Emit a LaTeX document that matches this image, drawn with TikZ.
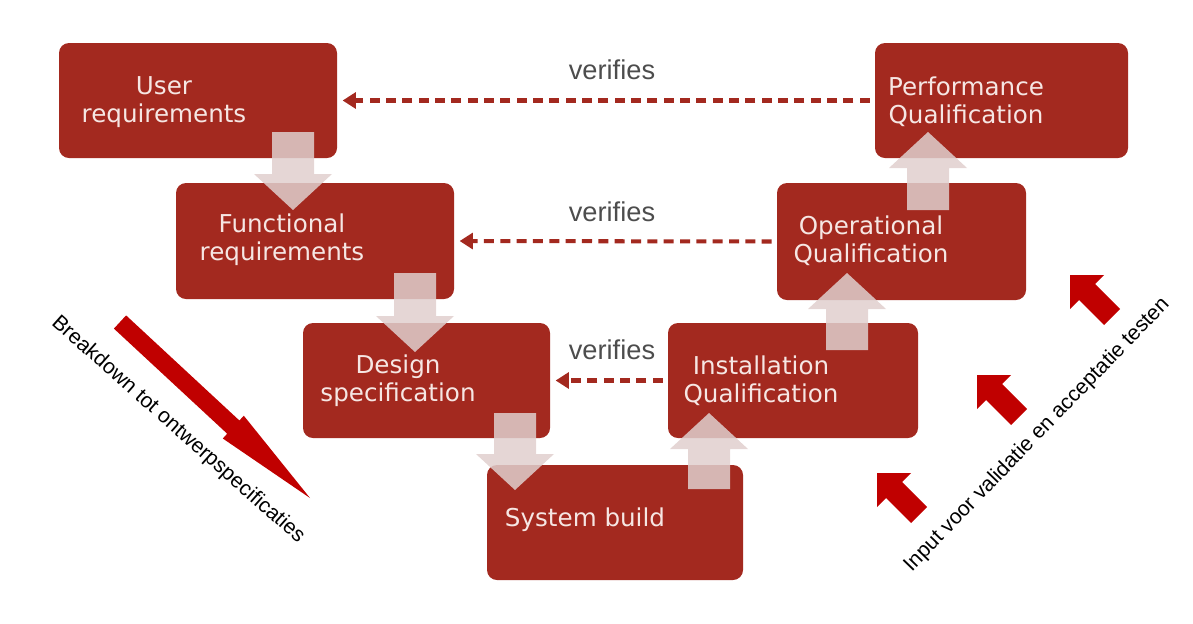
\documentclass[tikz,border=0pt]{standalone}
\usepackage{fontspec}
\setmainfont{Liberation Sans}
\newfontfamily\boxfont{DejaVu Sans}
\usetikzlibrary{arrows.meta,fit}
\definecolor{boxred}{HTML}{A3291F}
\definecolor{boxtext}{HTML}{F6E6E3}
\definecolor{liftpink}{HTML}{E0CFCE}
\definecolor{hintred}{HTML}{C00000}
\definecolor{verifygray}{HTML}{4D4D4D}

\begin{document}
\begin{tikzpicture}[x=0.02cm, y=-0.02cm,
  stage/.style={fill=boxred, rounded corners=0.2cm, inner sep=0pt},
  stagetext/.style={text=boxtext, align=center, font=\boxfont\fontsize{14}{16}\selectfont},
  verify/.style={draw=boxred, line width=2.3pt, dash pattern=on 5.7pt off 3.6pt,
    -{Triangle[length=7.5pt,width=9pt]}, shorten <=2.8pt, shorten >=3pt},
  verifytext/.style={text=verifygray, font=\fontsize{15.5}{18}\selectfont},
  lift/.style={fill=liftpink, fill opacity=0.85},
  hint/.style={fill=hintred},
  hinttext/.style={font=\fontsize{12}{14}\selectfont}]
  \useasboundingbox (0,0) rectangle (1193,623);

  \node[stage, fit={(59,43) (337,158)}] (ur) {};
  \node[stage, fit={(176,183) (454,299)}] (fr) {};
  \node[stage, fit={(303,323) (550,438)}] (ds) {};
  \node[stage, fit={(487,465) (743,580)}] (sb) {};
  \node[stage, fit={(668,323) (918,438)}] (iq) {};
  \node[stage, fit={(777,183) (1026,300)}] (oq) {};
  \node[stage, fit={(875,43) (1128,158)}] (pq) {};

  \draw[verify] (pq.west) -- (ur.east);
  \draw[verify] (oq.west) -- (fr.east);
  \draw[verify] (iq.west) -- (ds.east);
  \node[verifytext] (v1) at (612,70) {verifies};
  \node[verifytext] (v2) at (612,212) {verifies};
  \node[verifytext] (v3) at (612,350) {verifies};

  \foreach \x/\a/\b in {293/132/210, 415/273/352, 515/413/490, 709/489/413, 847/350/273, 928/210/132} {
    \pgfmathsetmacro\h{\b-36*sign(\b-\a)}
    \fill[lift] (\x-21,\a) -- (\x+21,\a) -- (\x+21,\h) -- (\x+39,\h) -- (\x,\b)
      -- (\x-39,\h) -- (\x-21,\h) -- cycle;
  }

  \node[stagetext] (ur-t) at (164,102) {User\\requirements};
  \node[stagetext] (fr-t) at (282,240) {Functional\\requirements};
  \node[stagetext] (ds-t) at (398,381) {Design\\specification};
  \node[stagetext] (sb-t) at (585,520) {System build};
  \node[stagetext] (iq-t) at (761,381) {Installation\\Qualification};
  \node[stagetext] (oq-t) at (871,241) {Operational\\Qualification};
  \node[stagetext] (pq-t) at (966,102) {Performance\\Qualification};

  \fill[hint] (126.1,315.4) -- (239.4,420.5) -- (243.8,415.7) -- (310,498)
    -- (222.8,438.5) -- (227.2,433.7) -- (113.9,328.6) -- cycle;
  \node[hinttext, rotate=-41.6] (bd) at (178,430) {Breakdown tot ontwerpspecificaties};

  \foreach \x/\y in {1070/275, 977/375, 877/473}
    \fill[hint] (\x,\y) -- ++(34,0) -- ++(-9,9) -- ++(25,25) -- ++(-16,16)
      -- ++(-25,-25) -- ++(-9,9) -- cycle;
  \node[hinttext, rotate=46] (iv) at (1037,435) {Input voor validatie en acceptatie testen};
\end{tikzpicture}
\end{document}
